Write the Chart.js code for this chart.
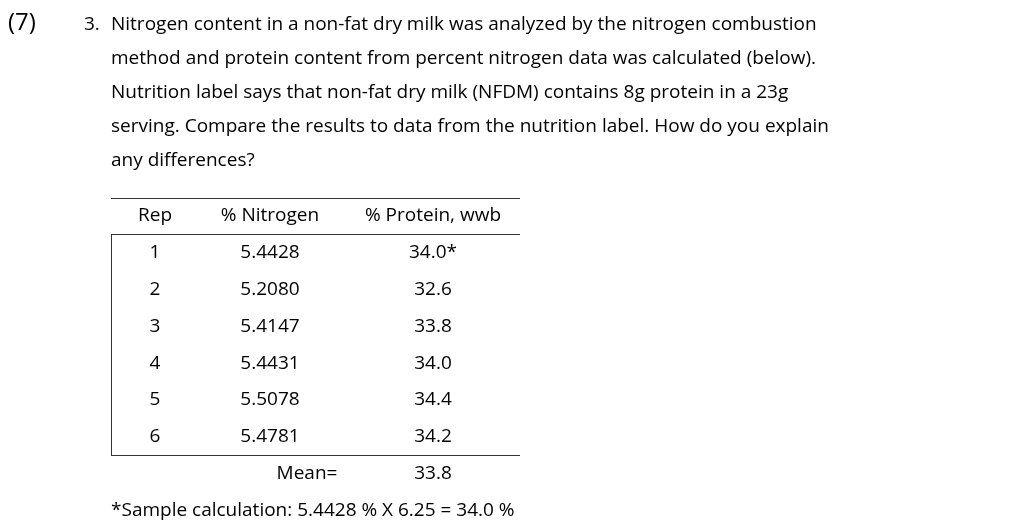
<!DOCTYPE html>
<html><head><meta charset="utf-8">
<script src="https://cdn.jsdelivr.net/npm/chart.js@4"></script>
<style>
html,body{margin:0;padding:0;background:#fff;}
#wrap{position:relative;width:1024px;height:532px;overflow:hidden;font-family:"Open Sans",sans-serif;color:#000;}
#q{position:absolute;left:0;top:6px;font-size:19px;line-height:34px;}
#q .num{position:absolute;left:8px;top:-2px;font-size:24px;}
#q .n3{position:absolute;left:84px;top:0;}
#q .txt{position:absolute;left:111px;top:0;width:900px;white-space:nowrap;}
#c{position:absolute;left:0;top:0;}
</style></head>
<body>
<div id="wrap">
<canvas id="c" width="1024" height="532"></canvas>
<div id="q">
  <span class="num">(7)</span><span class="n3">3.</span>
  <div class="txt">Nitrogen content in a non-fat dry milk was analyzed by the nitrogen combustion<br>method and protein content from percent nitrogen data was calculated (below).<br>Nutrition label says that non-fat dry milk (NFDM) contains 8g protein in a 23g<br>serving. Compare the results to data from the nutrition label. How do you explain<br>any differences?</div>
</div>
</div>
<script>
// table data
const headers = ["Rep", "% Nitrogen", "% Protein, wwb"];
const reps = ["1", "2", "3", "4", "5", "6"];
const nitrogen = ["5.4428", "5.2080", "5.4147", "5.4431", "5.5078", "5.4781"];
const protein = ["34.0*", "32.6", "33.8", "34.0", "34.4", "34.2"];
const meanLabel = "Mean=";
const meanProtein = "33.8";
const footnote = "*Sample calculation: 5.4428 % X 6.25 = 34.0 %";

const colX = [155, 270, 433];   // column centres
const tableLeft = 111, tableRight = 520;

const tablePlugin = {
  id: "table",
  afterDatasetsDraw(chart){
    const c = chart.ctx, x = chart.scales.x, y = chart.scales.y;
    c.save();
    c.fillStyle = "#000";
    c.textBaseline = "middle";
    c.font = "19px 'Open Sans', sans-serif";
    c.textAlign = "center";
    headers.forEach((h,i)=>c.fillText(h, x.getPixelForValue(colX[i]), y.getPixelForValue(0)));
    reps.forEach((r,i)=>{
      const py = y.getPixelForValue(i+1);
      c.fillText(r, x.getPixelForValue(colX[0]), py);
      c.fillText(nitrogen[i], x.getPixelForValue(colX[1]), py);
      c.fillText(protein[i], x.getPixelForValue(colX[2]), py);
    });
    c.fillText(meanLabel, x.getPixelForValue(307), y.getPixelForValue(7));
    c.fillText(meanProtein, x.getPixelForValue(colX[2]), y.getPixelForValue(7));
    c.textAlign = "left";
    c.fillText(footnote, x.getPixelForValue(tableLeft), y.getPixelForValue(8));
    // rules
    c.strokeStyle = "#333"; c.lineWidth = 1;
    [-0.5, 0.5, 6.5].forEach(v=>{
      const py = Math.round(y.getPixelForValue(v))+0.5;
      c.beginPath(); c.moveTo(x.getPixelForValue(tableLeft), py); c.lineTo(x.getPixelForValue(tableRight), py); c.stroke();
    });
    const vx = Math.round(x.getPixelForValue(tableLeft))+0.5;
    c.beginPath(); c.moveTo(vx, y.getPixelForValue(0.5)); c.lineTo(vx, y.getPixelForValue(6.5)); c.stroke();
    c.restore();
  }
};

new Chart(document.getElementById("c").getContext("2d"), {
  type: "scatter",
  data: { datasets: [{ data: reps.map((r,i)=>({x: colX[0], y: i+1})), pointRadius: 0 }] },
  options: {
    responsive: false, animation: false, devicePixelRatio: 1,
    layout: { padding: 0 },
    scales: {
      x: { type: "linear", min: 0, max: 1024, display: false },
      y: { type: "linear", min: -5.87, max: 8.59, reverse: true, display: false }
    },
    plugins: { legend: { display: false }, tooltip: { enabled: false } }
  },
  plugins: [tablePlugin]
});
</script>
</body></html>
